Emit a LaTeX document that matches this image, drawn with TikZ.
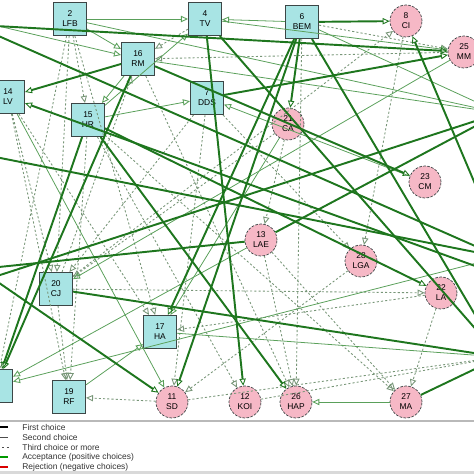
\documentclass[tikz,border=0pt]{standalone}
\usepackage{fontspec}
\setmainfont{Liberation Sans}
\usetikzlibrary{arrows.meta}

\definecolor{boxfill}{RGB}{168,228,228}
\definecolor{girlfill}{RGB}{246,184,198}
\definecolor{rim}{RGB}{60,70,70}
\definecolor{firstc}{RGB}{30,118,30}
\definecolor{secondc}{RGB}{90,160,90}
\definecolor{thirdc}{RGB}{120,150,120}

\tikzset{
  lab/.style={font=\fontsize{4.8}{5.7}\selectfont},
  boy/.style={lab, draw=rim, line width=0.6pt, fill=boxfill, minimum size=0.66cm, inner sep=0pt, align=center},
  girl/.style={lab, circle, draw=rim, dash pattern=on 1.5pt off 0.8pt, fill=girlfill, minimum size=0.64cm, inner sep=0pt, align=center},
  tip/.style={-{Triangle[open, length=4pt, width=3.6pt, line width=0.5pt]}},
  first/.style={tip, draw=firstc, line width=1.1pt},
  second/.style={tip, draw=secondc, line width=0.45pt},
  third/.style={tip, draw=thirdc, line width=0.5pt, dash pattern=on 1.2pt off 1.2pt},
}

\begin{document}
\begin{tikzpicture}[x=0.02cm, y=-0.02cm]
  \useasboundingbox (0,0) rectangle (474,474);

  % boys
  \foreach \id/\nm/\x/\y in {2/LFB/70/19, 4/TV/205/19, 6/BEM/302/22, 16/RM/138/59,
      14/LV/8/97, 15/HR/88/120, 7/DDS/207/98, 20/CJ/56/289, 17/HA/160/332, 19/RF/69/397}
    \node[boy] (n\id) at (\x,\y) {\id\\\nm};
  \node[boy] (nb) at (-4,386) {};

  % girls
  \foreach \id/\nm/\x/\y in {8/CI/406/21, 25/MM/464/52, 21/CA/288/124, 23/CM/425/182,
      13/LAE/261/240, 28/LGA/361/261, 22/LA/441/293, 11/SD/172/402, 12/KOI/245/402,
      26/HAP/296/402, 27/MA/406/402}
    \node[girl] (n\id) at (\x,\y) {\id\\\nm};

  % pupils outside the frame
  \foreach \c/\x/\y in {oL1/-40/24, oL2/-40/19, oL3/-40/288, oL4/-40/271, oL5/-40/256,
      oL6/-40/150, oL7/-40/17, oR1/500/113, oR2/500/357, oR3/500/257, oR5/500/275, oR6/520/290}
    \coordinate (\c) at (\x,\y);

  % third choice or more
  \foreach \a/\b in {n6/n26, n2/n15, n16/n26, n25/n16, n20/n16, n20/n19, n11/n19, n22/n17,
      n28/n11, n13/n27, n22/n27, n12/oR2, n11/oR2, n20/n8, n20/n22, n2/n20, n14/n20,
      n14/n17, n15/n19, n7/n11, n7/n28, n21/n20, n13/n26, n15/n27, n2/nb, n6/n25,
      n14/n19, n2/n17, n7/n20, n21/n13, n8/n28, n15/n12, n4/n16}
    \draw[third] (\a) -- (\b);

  % second choice
  \foreach \a/\b in {n2/n4, n6/n4, n15/n4, n2/n16, oL7/n16, n16/n15, n15/n7, n4/n25,
      n6/oR1, n2/oR1, n16/oR1, n25/n20, n13/nb, oR3/nb, n19/n17, n14/n11, n17/oR2,
      n27/n26, n23/n7, n21/n17}
    \draw[second] (\a) -- (\b);

  % first choice
  \foreach \a/\b in {oL1/n25, oL2/oR3, n16/n14, oR5/n14, n7/n25, n15/n22, n15/nb, n16/nb,
      n4/n12, n4/oR2, n6/oR2, n6/n8, n6/n21, n6/n11, n6/n17, oR6/n8, n20/oR2, n27/oR2,
      n15/n26, oL3/oR1, oL5/n11, n13/oL4, n13/oR1, n16/n23, oL6/oR3}
    \draw[first] (\a) -- (\b);

  % legend
  \draw[gray!55, line width=1pt] (0,421) -- (474,421);
  \fill[gray!30] (0,471) rectangle (474,474);
  \draw[black, line width=1pt] (0,427) -- (8,427);
  \draw[black!70, line width=0.5pt] (0,437) -- (8,437);
  \draw[black!70, line width=0.5pt, dash pattern=on 1.2pt off 1.5pt] (2,447) -- (9,447);
  \draw[green!60!black, line width=1pt] (0,457) -- (8,457);
  \draw[red!85!black, line width=1pt] (0,467) -- (8,467);
  \foreach \i/\t/\y in {1/First choice/427, 2/Second choice/437, 3/Third choice or more/447,
      4/Acceptance (positive choices)/457, 5/Rejection (negative choices)/467}
    \node[lab, anchor=west, inner sep=0pt, text=black!80] (leg\i) at (22,\y) {\t};
\end{tikzpicture}
\end{document}
